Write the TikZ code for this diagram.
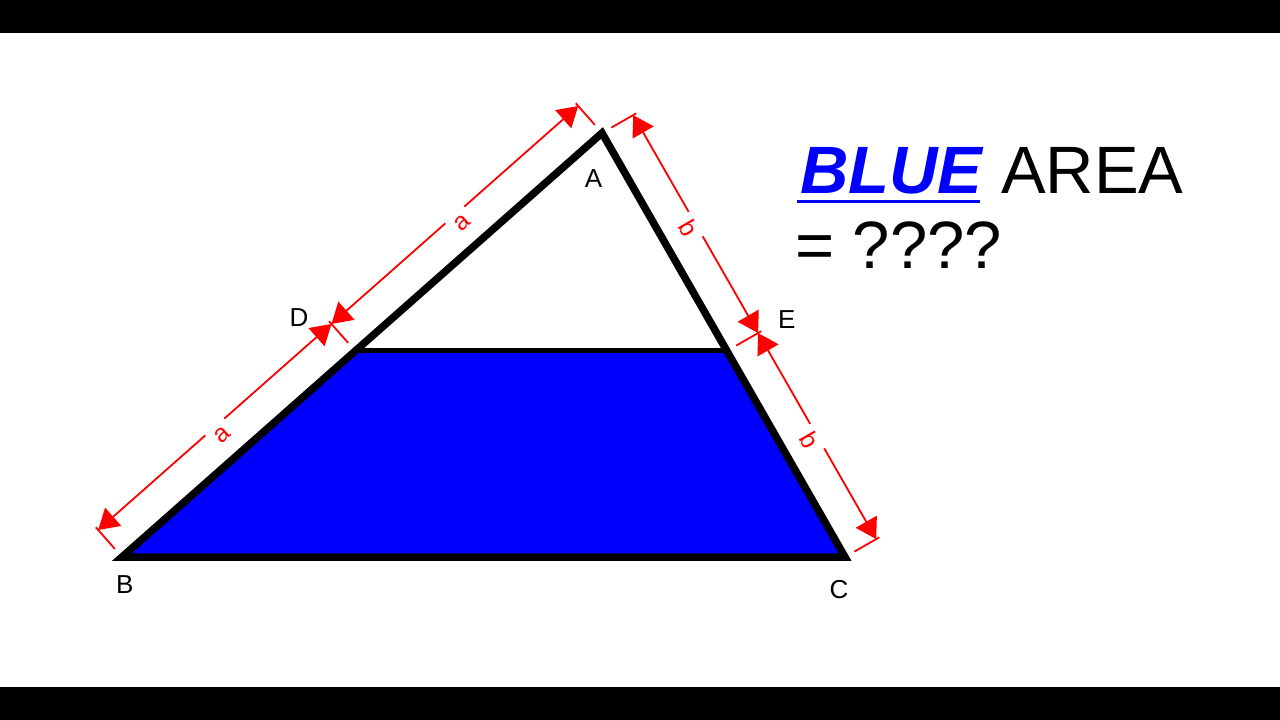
\documentclass[tikz,border=0pt]{standalone}
\usepackage{fontspec}
\setmainfont{Liberation Sans}
\usetikzlibrary{arrows.meta,calc}
\begin{document}
\begin{tikzpicture}[x=1pt,y=-1pt,
  edge/.style={line width=7.5pt,line join=miter},
  tip/.tip={Triangle[length=20pt,width=24pt]},
  dimline/.style={red,line width=1.8pt,tip-tip},
  extline/.style={red,line width=1.8pt},
  gap/.style={fill=white,inner sep=0pt,minimum width=25pt,minimum height=8pt},
  dimlabel/.style={red,font=\fontsize{25}{25}\selectfont,inner sep=0pt,anchor=base},
  vlabel/.style={font=\fontsize{26}{26}\selectfont,inner sep=0pt}]
\useasboundingbox (0,0) rectangle (1280,720);
\fill[white] (0,0) rectangle (1280,720);
\fill[black] (0,0) rectangle (1280,33);
\fill[black] (0,687) rectangle (1280,720);

\coordinate (A) at (602,133);
\coordinate (B) at (122,557);
\coordinate (C) at (845,557);
\coordinate (D) at ($(A)!0.514!(B)$);
\coordinate (E) at ($(A)!0.514!(C)$);
\coordinate (nAB) at (-23.8,-27);
\coordinate (nAC) at (31.2,-17.9);
\coordinate (inAB) at (11.6,13.1);
\coordinate (inAC) at (-15.2,8.7);

\fill[blue] (B) -- (D) -- (E) -- (C) -- cycle;
\draw[edge] (A) -- (B) -- (C) -- cycle;
\draw[line width=5pt] (D) -- (E);

% dimension points
\coordinate (B1) at ($(B)+(nAB)$);
\coordinate (D1) at ($(D)+(nAB)$);
\coordinate (A1) at ($(A)+(nAB)$);
\coordinate (A2) at ($(A)+(nAC)$);
\coordinate (E2) at ($(E)+(nAC)$);
\coordinate (C2) at ($(C)+(nAC)$);

% extension lines
\draw[extline] ($(B)+1.1*(nAB)$) -- ($(B)+0.3*(nAB)$);
\draw[extline] ($(D)+1.1*(nAB)$) -- ($(D)+0.3*(nAB)$);
\draw[extline] ($(A)+1.1*(nAB)$) -- ($(A)+0.3*(nAB)$);
\draw[extline] ($(A)+1.1*(nAC)$) -- ($(A)+0.3*(nAC)$);
\draw[extline] ($(E)+1.1*(nAC)$) -- ($(E)+0.3*(nAC)$);
\draw[extline] ($(C)+1.1*(nAC)$) -- ($(C)+0.3*(nAC)$);

% dimension lines
\draw[dimline] (B1) -- (D1);
\draw[dimline] (D1) -- (A1);
\draw[dimline] (A2) -- (E2);
\draw[dimline] (E2) -- (C2);

\node[gap,rotate=41.45] (g1) at ($(B1)!0.5!(D1)$) {};
\node[gap,rotate=41.45] (g2) at ($(D1)!0.5!(A1)$) {};
\node[gap,rotate=-60.18,minimum width=28pt] (g3) at ($(A2)!0.5!(E2)$) {};
\node[gap,rotate=-60.18,minimum width=28pt] (g4) at ($(E2)!0.5!(C2)$) {};
\node[dimlabel,rotate=41.45] (la1) at ($(B1)!0.5!(D1)+(inAB)$) {a};
\node[dimlabel,rotate=41.45] (la2) at ($(D1)!0.5!(A1)+(inAB)$) {a};
\node[dimlabel,rotate=-60.18] (lb1) at ($(A2)!0.5!(E2)+(inAC)$) {b};
\node[dimlabel,rotate=-60.18] (lb2) at ($(E2)!0.5!(C2)+(inAC)$) {b};

% vertex labels
\node[vlabel] (lA) at (593.5,179) {A};
\node[vlabel] (lB) at (124.7,585) {B};
\node[vlabel] (lC) at (839,590) {C};
\node[vlabel] (lD) at (299,317.5) {D};
\node[vlabel] (lE) at (786.7,320) {E};

% title
\node[anchor=base west,inner sep=0pt,font=\fontsize{67}{67}\selectfont] (title) at (800,193) {\textcolor{blue}{\bfseries\itshape BLUE} AREA};
\draw[blue,line width=3.3pt] (797,201.7) -- (980,201.7);
\node[anchor=base west,inner sep=0pt,font=\fontsize{67}{67}\selectfont] (eq) at (795,268) {= ????};
\end{tikzpicture}
\end{document}
